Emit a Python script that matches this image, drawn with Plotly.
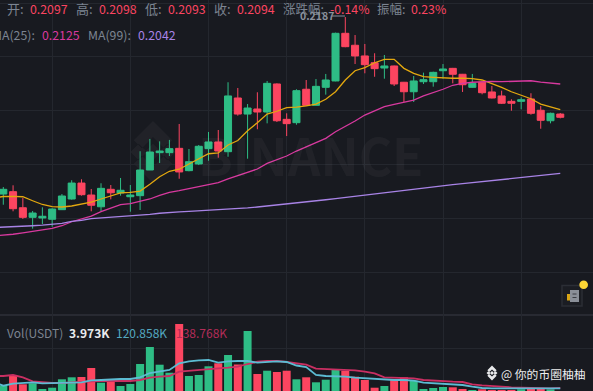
import plotly.graph_objects as go
from plotly.subplots import make_subplots

W, H = 593, 391
UNIT = 1e-4  # price arrays are in units of 0.0001

opens = [2022.8,2025.0,2010.1,2001.2,2000.6,1999.4,2008.3,2018.2,2033.0,2021.9,2011.0,2027.2,2023.8,2020.3,2021.3,2045.1,2061.2,2061.2,2065.2,2044.5,2050.7,2064.9,2071.1,2062.1,2111.9,2097.0,2101.7,2098.9,2124.9,2092.1,2089.0,2120.0,2105.1,2121.8,2127.7,2171.9,2160.8,2150.9,2144.6,2139.7,2141.6,2126.5,2117.7,2127.0,2127.0,2137.2,2139.4,2133.9,2121.8,2126.5,2117.5,2113.8,2108.8,2108.8,2111.0,2100.5,2090.8,2097.0]
highs = [2029.3,2030.9,2019.1,2007.1,2010.5,2009.6,2022.8,2035.6,2036.5,2027.5,2032.8,2031.2,2037.7,2031.2,2062.5,2073.9,2071.7,2073.0,2087.8,2064.6,2068.3,2080.4,2082.2,2126.5,2121.2,2106.3,2117.2,2127.7,2125.5,2097.7,2120.0,2128.6,2129.5,2134.2,2172.5,2187.0,2170.3,2162.0,2153.4,2151.8,2141.9,2126.8,2132.3,2135.4,2136.3,2143.4,2139.8,2134.2,2134.2,2127.0,2123.0,2118.7,2110.7,2112.5,2116.3,2104.5,2098.3,2098.0]
lows = [2012.9,2006.8,1999.7,1990.7,1995.0,1992.5,2008.0,2017.6,2021.3,2006.8,2006.8,2017.9,2021.3,2006.4,2008.0,2045.1,2051.6,2058.1,2037.0,2043.9,2049.7,2053.7,2056.5,2057.4,2095.5,2055.6,2082.9,2088.4,2089.6,2076.6,2087.1,2105.1,2105.1,2115.0,2127.4,2159.0,2143.4,2134.8,2131.6,2129.8,2123.0,2108.2,2108.2,2124.9,2122.4,2129.8,2125.5,2117.5,2121.5,2115.3,2111.5,2106.3,2100.1,2101.4,2096.4,2083.4,2088.4,2093.0]
closes = [2027.2,2009.2,2001.2,2005.2,2002.2,2008.9,2021.0,2033.0,2022.2,2012.4,2028.1,2024.0,2026.3,2021.9,2045.1,2061.8,2062.7,2064.9,2043.3,2052.8,2067.1,2071.1,2062.7,2113.8,2097.0,2102.6,2098.9,2125.5,2090.8,2088.1,2118.7,2105.1,2122.7,2128.6,2171.9,2159.5,2150.9,2142.8,2139.1,2141.6,2124.9,2117.7,2127.7,2128.9,2135.7,2138.8,2133.9,2124.2,2125.5,2116.8,2111.9,2107.0,2107.0,2110.3,2097.7,2091.2,2097.7,2094.0]
# moving-average arrays start one candle earlier, off the left edge of the picture
ma7 = [2019.1,2020.5,2020.7,2020.3,2016.6,2013.1,2011.1,2010.8,2011.7,2013.6,2015.4,2018.2,2021.3,2023.8,2024.4,2025.6,2031.8,2038.9,2043.9,2045.8,2050.7,2055.3,2060.2,2060.9,2068.3,2072.5,2081.5,2089.0,2097.0,2099.6,2102.9,2103.5,2104.5,2106.3,2110.7,2117.7,2128.6,2137.2,2140.0,2144.6,2147.8,2147.8,2139.4,2134.8,2131.7,2131.1,2130.4,2130.2,2130.2,2129.8,2128.6,2125.5,2121.8,2117.7,2114.7,2111.2,2106.3,2103.5,2101.0]
ma25 = [1983.9,1984.5,1985.5,1986.7,1987.9,1989.5,1991.0,1993.4,1997.1,1999.4,2002.4,2006.4,2009.6,2012.9,2013.9,2015.7,2018.2,2021.6,2024.4,2025.9,2027.5,2029.6,2031.5,2033.3,2036.8,2039.8,2042.6,2046.0,2051.3,2054.4,2058.1,2062.7,2066.7,2070.4,2074.5,2080.6,2085.3,2090.6,2096.1,2100.1,2103.8,2106.0,2107.9,2110.0,2113.8,2116.8,2120.0,2123.7,2125.5,2126.5,2127.0,2127.4,2127.0,2127.4,2127.7,2127.9,2126.7,2126.1,2124.9]
ma99 = [1991.7,1992.0,1992.2,1992.8,1993.4,1993.9,1994.4,1995.5,1997.5,1998.4,2000.0,2000.6,2001.8,2002.3,2002.7,2003.4,2004.0,2005.0,2005.9,2006.3,2006.8,2007.3,2007.7,2008.0,2008.3,2008.9,2009.9,2010.8,2011.7,2012.5,2013.3,2014.2,2015.2,2016.3,2017.5,2018.6,2019.7,2020.8,2021.9,2023.0,2024.1,2025.3,2026.6,2027.8,2028.7,2029.6,2030.5,2031.5,2032.4,2033.3,2034.3,2035.3,2036.2,2037.2,2038.1,2039.2,2040.1,2041.0,2041.9]
volume = [204,495,246,276,105,144,396,456,465,735,294,324,195,255,855,1365,834,594,2055,495,525,786,876,1125,840,1845,555,654,615,654,396,456,306,384,675,654,474,375,144,195,396,456,354,105,135,165,156,105,75,96,75,75,75,96,126,135,96,3.973]
vol_ma7 = [315,204,264,276,306,276,276,276,294,306,366,375,396,405,405,456,585,624,675,876,936,966,975,894,936,945,945,894,915,936,915,810,765,525,495,495,474,444,426,405,396,375,375,354,294,276,276,255,225,174,135,126,126,126,114,105,105,105,120.858]
vol_ma25 = [495,495,525,456,336,306,285,285,306,315,336,345,345,336,345,375,444,474,495,624,654,675,696,726,744,774,855,924,945,945,915,870,834,714,705,705,696,666,624,576,456,444,444,426,375,354,345,324,315,246,216,204,174,156,144,135,126,126,138.768]

idx = list(range(len(opens)))
line_idx = [-1] + idx
for arr in (highs, lows, closes, volume):
    assert len(arr) == len(idx), len(arr)
for arr in (ma7, ma25, ma99, vol_ma7, vol_ma25):
    assert len(arr) == len(line_idx), len(arr)

GREEN, RED = "#2EBD85", "#FC4560"
GOLD, PINK, PURPLE = "#E3A80F", "#D8399F", "#A883E6"
CYAN, CRIMSON = "#5CBCD3", "#C92F62"
BG, GRID = "#181A20", "#24272E"
SEP = "#2E3138"
GREY = "#7C8491"
FONT = "Noto Sans CJK SC, Noto Sans, sans-serif"

p = lambda s: [v * UNIT for v in s]

PANEL_SPLIT = 315
fig = make_subplots(rows=2, cols=1, shared_xaxes=True, vertical_spacing=0,
                    row_heights=[PANEL_SPLIT / H, 1 - PANEL_SPLIT / H])

fig.add_trace(go.Candlestick(
    x=idx, open=p(opens), high=p(highs), low=p(lows), close=p(closes),
    increasing=dict(line=dict(color=GREEN, width=1), fillcolor=GREEN),
    decreasing=dict(line=dict(color=RED, width=1), fillcolor=RED),
    whiskerwidth=0, showlegend=False, hoverinfo="skip"), row=1, col=1)
for series, color in ((ma7, GOLD), (ma25, PINK), (ma99, PURPLE)):
    fig.add_trace(go.Scatter(x=line_idx, y=p(series), mode="lines",
                             line=dict(color=color, width=1.3), showlegend=False,
                             hoverinfo="skip"), row=1, col=1)

bar_colors = [GREEN if c >= o else RED for o, c in zip(opens, closes)]
fig.add_trace(go.Bar(x=idx, y=volume, marker=dict(color=bar_colors, line_width=0),
                     width=0.82, showlegend=False, hoverinfo="skip"), row=2, col=1)
for series, color in ((vol_ma25, CRIMSON), (vol_ma7, CYAN)):
    fig.add_trace(go.Scatter(x=line_idx, y=series, mode="lines",
                             line=dict(color=color, width=1.8), showlegend=False,
                             hoverinfo="skip"), row=2, col=1)

x_range = [-0.338, 60.35]
grid_candles = [5, 13, 21, 29, 37, 45, 53]
fig.update_xaxes(range=x_range, tickvals=grid_candles, showticklabels=False,
                 showgrid=True, gridcolor=GRID, gridwidth=1, zeroline=False,
                 showline=False, ticks="", rangeslider_visible=False)
fig.update_yaxes(range=[0.19106, 0.22028], tick0=0.2, dtick=0.005, row=1, col=1,
                 showticklabels=False, showgrid=True, gridcolor=GRID, zeroline=False,
                 showline=False, ticks="")
fig.update_yaxes(range=[45, 2325], tickvals=[1335], row=2, col=1,
                 showticklabels=False, showgrid=True, gridcolor=GRID, zeroline=False,
                 showline=False, ticks="")


def px(x):
    return x / W


def py(y):
    return 1 - y / H


def label(x, y, text, color, size=12.5, anchor="left", weight=None):
    fig.add_annotation(xref="paper", yref="paper", x=px(x), y=py(y), text=text,
                       showarrow=False, xanchor=anchor, yanchor="middle",
                       font=dict(family=FONT, size=size, color=color, weight=weight),
                       borderpad=0, borderwidth=0)


header = [(7, "开:", GREY, 13), (30, "0.2097", RED, 12.3), (76, "高:", GREY, 13), (99, "0.2098", RED, 12.3),
          (145, "低:", GREY, 13), (168, "0.2093", RED, 12.3), (214, "收:", GREY, 13), (237, "0.2094", RED, 12.3),
          (283, "涨跌幅:", GREY, 12.5), (330, "-0.14%", RED, 12.3), (377, "振幅:", GREY, 12.5), (411, "0.23%", RED, 12.3)]
for x, t, c, s in header:
    label(x, 9, t, c, s)
for x, t, c in [(-8, "MA(25):", GREY), (42, "0.2125", PINK), (88, "MA(99):", GREY), (138, "0.2042", PURPLE)]:
    label(x, 35, t, c, 12.3)
label(300, 15.5, "0.2187", "#8A919C", 10.5, weight=600)
for x, t, c, w in [(7, "Vol(USDT)", GREY, None), (69, "3.973K", "#EAECEF", 600),
                   (116, "120.858K", "#54A9C0", None), (176, "138.768K", "#B32C58", None)]:
    label(x, 332, t, c, 12, weight=w)

# big faint watermark
label(198, 154, "BINANCE", "rgba(255,255,255,0.04)", 51, weight=700)


def poly(points):
    return "M " + " L ".join(f"{px(a):.5f},{py(b):.5f}" for a, b in points) + " Z"


def binance_logo(cx, cy, r):
    c = lambda pts: [(cx + a * r, cy + b * r) for a, b in pts]
    parts = [
        c([(0, -0.27), (0.27, 0), (0, 0.27), (-0.27, 0)]),
        c([(-0.73, 0), (-0.46, -0.27), (-0.19, 0), (-0.46, 0.27)]),
        c([(0.73, 0), (0.46, -0.27), (0.19, 0), (0.46, 0.27)]),
        c([(0, -1), (0.62, -0.38), (0.36, -0.12), (0, -0.48), (-0.36, -0.12), (-0.62, -0.38)]),
        c([(0, 1), (0.62, 0.38), (0.36, 0.12), (0, 0.48), (-0.36, 0.12), (-0.62, 0.38)]),
    ]
    return " ".join(poly(q) for q in parts)


shapes = [
    dict(type="path", xref="paper", yref="paper", path=binance_logo(153, 152, 31),
         fillcolor="rgba(255,255,255,0.04)", line_width=0, layer="below"),
    dict(type="line", xref="paper", yref="paper", x0=0, x1=1, y0=py(PANEL_SPLIT), y1=py(PANEL_SPLIT),
         line=dict(color=SEP, width=1.5), layer="below"),
    dict(type="line", xref="paper", yref="paper", x0=px(332), x1=px(345), y0=py(16), y1=py(16),
         line=dict(color="#848E9C", width=1)),
    dict(type="path", xref="paper", yref="paper", path=binance_logo(492, 373, 7.5),
         fillcolor="#E8E9EB", line_width=0),
    # notification widget
    dict(type="rect", xref="paper", yref="paper", x0=px(562), x1=px(582), y0=py(285.5), y1=py(306),
         line=dict(color="#2B2E35", width=1.5), fillcolor="#1B1D23"),
    dict(type="rect", xref="paper", yref="paper", x0=px(567), x1=px(570), y0=py(294), y1=py(300.5),
         fillcolor="#D9A514", line_width=0),
    dict(type="rect", xref="paper", yref="paper", x0=px(570), x1=px(579), y0=py(290), y1=py(302),
         fillcolor="#8A8F98", line_width=0),
    dict(type="line", xref="paper", yref="paper", x0=px(572.5), x1=px(576.5), y0=py(294), y1=py(294),
         line=dict(color="#3A3D44", width=1)),
    dict(type="line", xref="paper", yref="paper", x0=px(572.5), x1=px(576.5), y0=py(297.5), y1=py(297.5),
         line=dict(color="#3A3D44", width=1)),
    dict(type="circle", xref="paper", yref="paper", x0=px(579.3), x1=px(588), y0=py(280.4), y1=py(289),
         fillcolor="#FCD535", line_width=0),
]

label(501, 373, "@ 你的币圈柚柚", "#EDEDEE", 11.8)

fig.update_layout(width=W, height=H, autosize=False, margin=dict(l=0, r=0, t=0, b=0),
                  paper_bgcolor=BG, plot_bgcolor=BG, shapes=shapes,
                  boxgap=0.2, boxgroupgap=0.1,
                  showlegend=False, hovermode=False, bargap=0.18)

fig.write_html("out.html", config=dict(displayModeBar=False),
               post_script="document.body.style.margin='0';document.body.style.background='#181A20';document.documentElement.style.overflow='hidden';")
